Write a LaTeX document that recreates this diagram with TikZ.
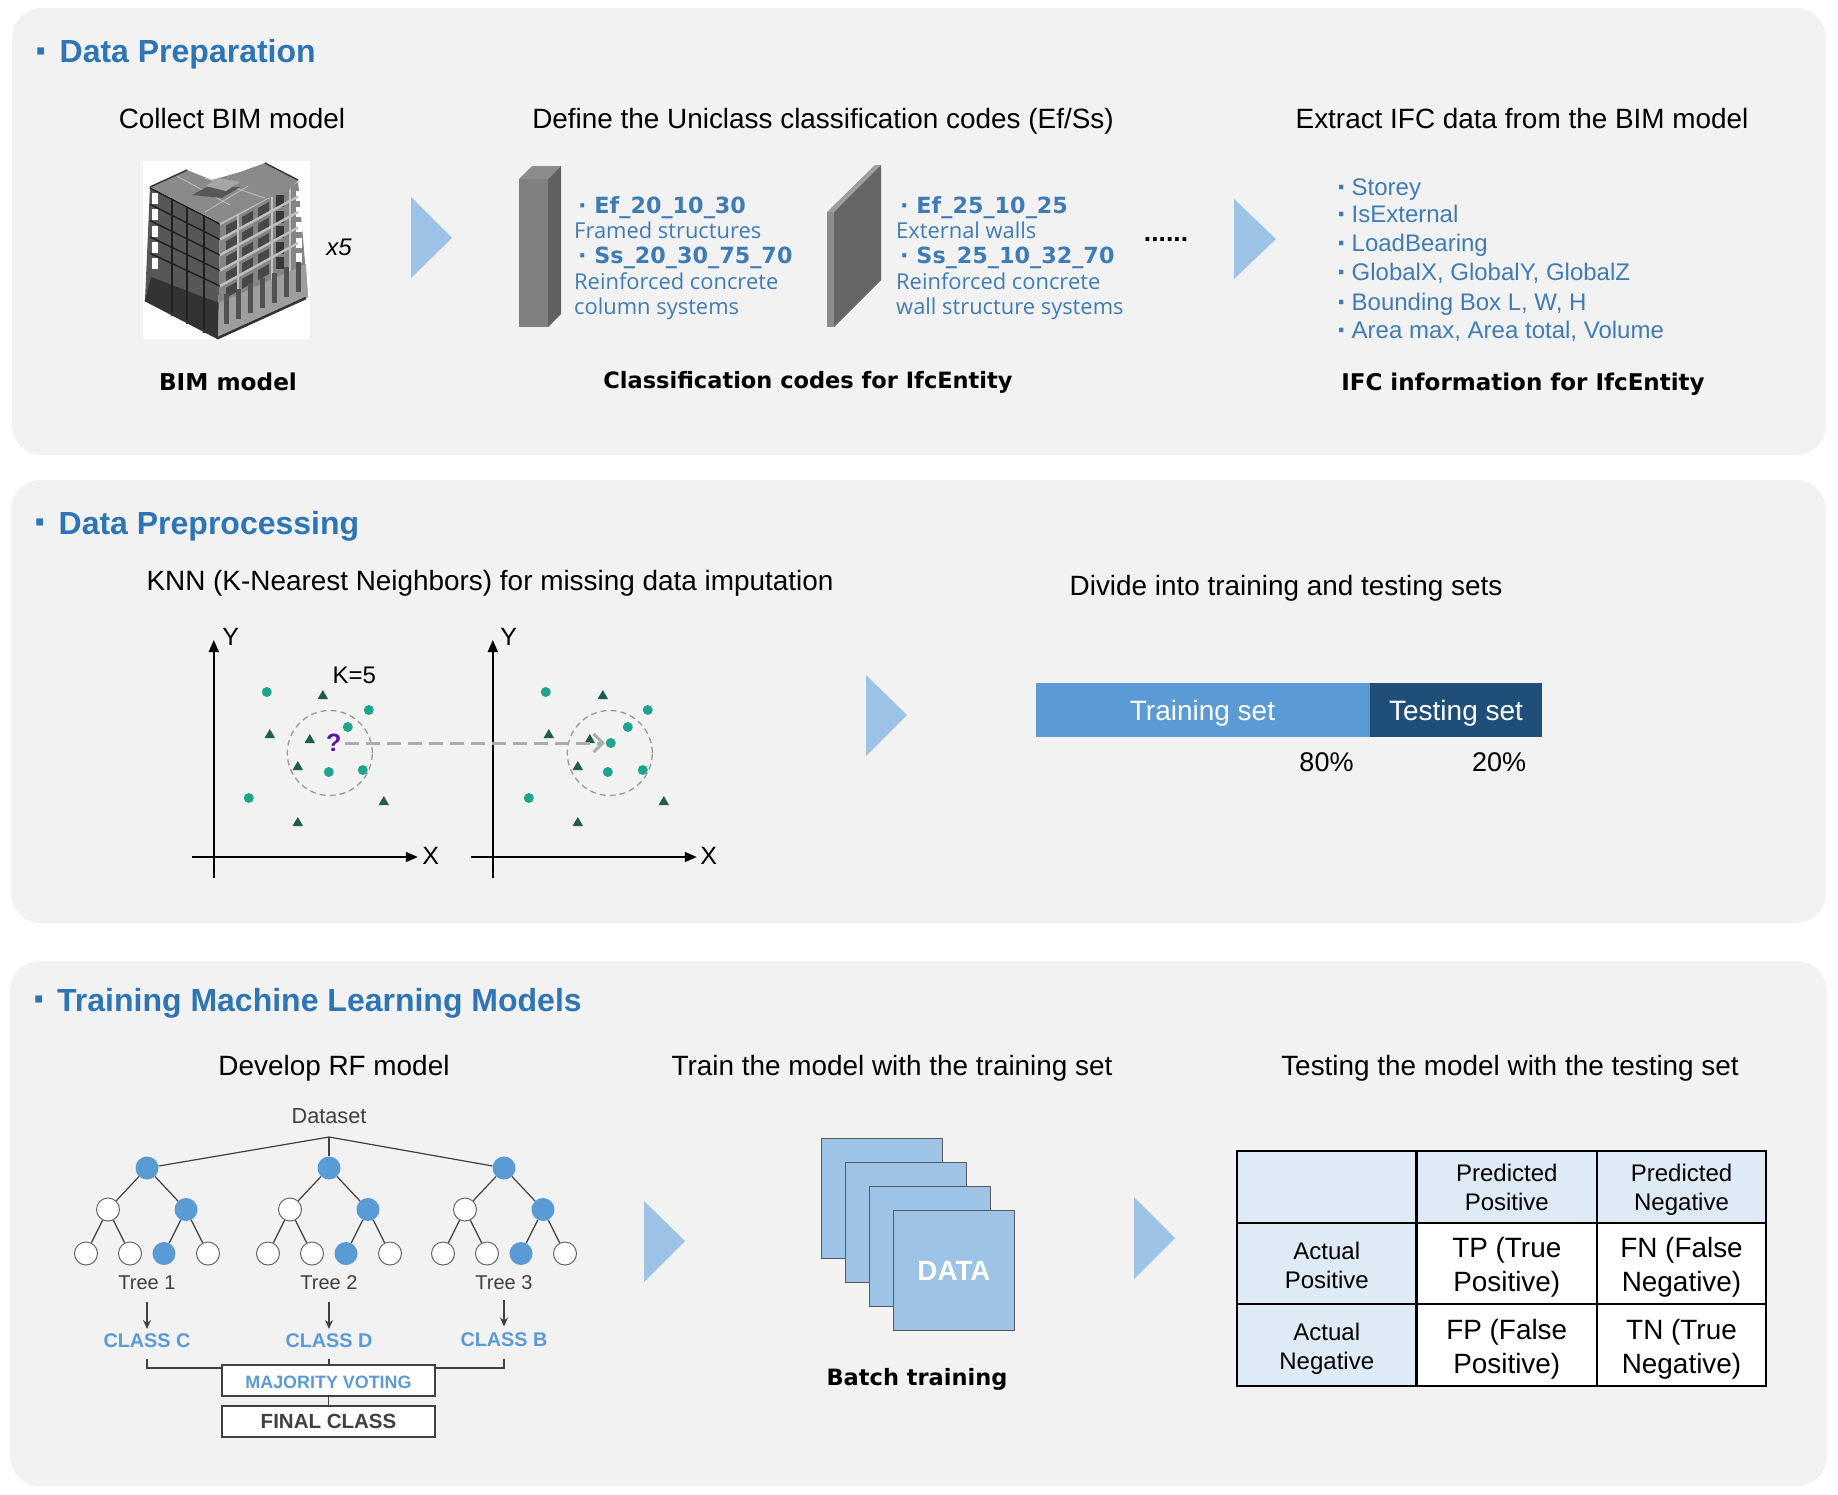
\documentclass[tikz,border=0pt]{standalone}
\usepackage{fontspec}
\setmainfont{Liberation Sans}
\newfontfamily\codefont{DejaVu Sans}
\newfontfamily\notefont{Open Sans}
\usetikzlibrary{arrows.meta,shapes.geometric}
\definecolor{panelgray}{HTML}{F2F2F2}
\definecolor{headblue}{HTML}{2E75B6}
\definecolor{textblue}{HTML}{3F7CB5}
\definecolor{arrowblue}{HTML}{9DC3E6}
\definecolor{midblue}{HTML}{5B9BD5}
\definecolor{darkblue}{HTML}{1F4E79}
\definecolor{cellblue}{HTML}{DEEAF6}
\definecolor{dotteal}{HTML}{1FA58E}
\definecolor{triteal}{HTML}{1F5C4E}
\definecolor{askpurple}{HTML}{5A12A8}
\definecolor{inkgray}{HTML}{404040}
\newcommand\bul{{\fontsize{48}{36}\selectfont\raisebox{-4.4pt}{·}}\hspace{9pt}}
\newcommand\code[1]{\hspace*{4pt}{\fontsize{22.3}{25.4}\selectfont\codefont\bfseries · #1}}
\newcommand\twol[2]{\vphantom{(Pg}#1\\\vphantom{(Pg}#2}
\newcommand\itm{{\fontsize{30}{28}\selectfont\bfseries\raisebox{-2pt}{·}}\hspace{4.5pt}}
\tikzset{
  panel/.style={fill=panelgray,rounded corners=30pt},
  flow/.style={fill=arrowblue},
  title/.style={anchor=base west,inner sep=0pt,text=headblue,font=\fontsize{32}{36}\selectfont\bfseries},
  head/.style={anchor=base,inner sep=0pt,font=\fontsize{27.9}{33}\selectfont},
  boldcap/.style={anchor=base,inner sep=0pt,font=\fontsize{#1}{28}\selectfont\codefont\bfseries},
  note/.style={anchor=west,inner sep=0pt,align=left,text=textblue,font=\fontsize{21.9}{25.4}\selectfont\notefont},
  item/.style={anchor=base west,inner sep=0pt,text=textblue,font=\fontsize{24}{28}\selectfont},
  axis/.style={line width=1.6pt,-{Triangle[length=12pt,width=10pt]}},
  axlabel/.style={font=\fontsize{25}{30}\selectfont},
  dot/.style={circle,fill=dotteal,inner sep=0pt,minimum size=10pt},
  tri/.style={regular polygon,regular polygon sides=3,fill=triteal,inner sep=0pt,minimum size=12pt},
  nearby/.style={draw=gray!80,line width=1.3pt,dash pattern=on 6pt off 4pt},
  bar/.style={inner sep=0pt,minimum height=54pt},
  barlabel/.style={anchor=base,inner sep=0pt,text=white,font=\fontsize{28}{32}\selectfont},
  pct/.style={anchor=base,inner sep=0pt,font=\fontsize{27}{32}\selectfont},
  fullnode/.style={circle,inner sep=0pt,minimum size=23pt,fill=midblue},
  emptynode/.style={circle,draw=white!40!black,line width=1pt,inner sep=0pt,minimum size=23pt,fill=white},
  link/.style={draw=inkgray,line width=1.2pt},
  small/.style={text=inkgray,font=\fontsize{#1}{26}\selectfont},
  vote/.style={text=midblue,font=\fontsize{19.8}{24}\selectfont\bfseries},
  box/.style={draw=inkgray,line width=2pt,fill=white,inner sep=0pt,minimum width=213pt,minimum height=31pt},
  sheet/.style={fill=arrowblue,draw=gray!70!black,line width=1pt,inner sep=0pt,minimum width=121pt,minimum height=120pt},
  cell/.style={draw=black,line width=2.5pt,inner sep=0pt},
  chead/.style={cell,fill=cellblue},
  cbody/.style={cell,fill=white},
  lhead/.style={align=center,inner sep=0pt,font=\fontsize{24}{29}\selectfont},
  lbody/.style={align=center,inner sep=0pt,font=\fontsize{27.9}{34}\selectfont},
}
\begin{document}
\begin{tikzpicture}[x=1pt,y=-1pt]
\useasboundingbox (0,0) rectangle (1838,1494);
% panels
\fill[panel] (12,8) rectangle (1826,455);
\fill[panel] (11,480) rectangle (1826,923);
\fill[panel] (10,961) rectangle (1827,1486);

% --- data preparation
\node[title] (t1) at (34.5,62.6) {\bul Data Preparation};
\node[head] (h1) at (232,128.5) {Collect BIM model};
\node[head] (h2) at (823,128.5) {Define the Uniclass classification codes (Ef/Ss)};
\node[head] (h3) at (1522,128.5) {Extract IFC data from the BIM model};

% building
\fill[white] (143,161) rectangle (310,339);
\fill[black!66] (150,187) -- (220,223) -- (218,338) -- (145,300) -- cycle;
\fill[black!80] (151,277) -- (219,303) -- (218,338) -- (145,300) -- cycle;
\fill[black!48] (220,223) -- (298,180) -- (308,297) -- (218,338) -- cycle;
\foreach \k in {0,...,4}{
  \fill[white] (152,{193+16.3*\k}) rectangle (158,{204+16.3*\k});
  \fill[white] (296,{191+15.5*\k}) rectangle (302,{201+15.5*\k});
  \draw[black!88,line width=1.4pt] (150,{188+16.3*\k}) -- (220,{224+15.5*\k});
  \foreach \u in {6,22,38}{
    \fill[black!72] ({220+\u},{229-.55*\u+15.5*\k}) -- ({231+\u},{229-.55*(\u+11)+15.5*\k})
      -- ({231+\u},{239-.55*(\u+11)+15.5*\k}) -- ({220+\u},{239-.55*\u+15.5*\k}) -- cycle;
  }
  \fill[black!78] ({220+56},{226-.55*56+15.5*\k}) rectangle ({220+64},{238-.55*56+15.5*\k});
  \draw[black!25,line width=2.4pt] (220,{224+15.5*\k}) -- (298,{181+15.5*\k});
}
\foreach \x in {172,187,204}{
  \draw[black!88,line width=1.2pt] (\x,{187+.514*(\x-150)}) -- (\x,{305+.52*(\x-150)});
}
\foreach \u in {18,52,70}{
  \draw[black!25,line width=1.6pt] ({220+\u},{223-.55*\u}) -- ({220+\u},{303-.45*\u});
}
\fill[black!38] (219,303) -- (306,264) -- (308,297) -- (218,338) -- cycle;
\foreach \u in {4,16,28,40,52,64,76}{
  \fill[black!68] ({220+\u},{296-.45*\u}) rectangle ({225+\u},{326-.45*\u});
}
\draw[black!80,line width=2.5pt] (145,300) -- (218,338) -- (306,298);
\fill[black!46] (150,187) -- (187,170) -- (212,180) -- (240,172) -- (265,163) -- (298,180) -- (287,192) -- (268,198) -- (220,223) -- cycle;
\draw[black!25,line width=.8pt] (175,175) -- (230,205) (205,178) -- (265,198) (248,186) -- (205,212);
\fill[black!66] (192,195) -- (207,187) -- (240,187) -- (222,198) -- cycle;
\fill[black!35] (206,186) -- (218,178) -- (240,182) -- (226,191) -- cycle;
\draw[black!80,line width=1.4pt] (150,187) -- (187,170) (265,163) -- (298,180);

\node[font=\fontsize{24}{28}\selectfont\itshape] (x5) at (339,247) {x5};
\fill[flow] (411,197) -- (452,238) -- (411,278) -- cycle;

% column and wall
\fill[black!50] (519,179) rectangle (548,327);
\fill[black!45] (519,179) -- (532,166) -- (561,166) -- (548,179) -- cycle;
\fill[black!62] (548,179) -- (561,166) -- (561,314) -- (548,327) -- cycle;
\node[note] (n1) at (574,258) {\code{Ef\_20\_10\_30}\\Framed structures\\\code{Ss\_20\_30\_75\_70}\\Reinforced concrete\\column systems};
\fill[black!45] (827,212) rectangle (834,327);
\fill[black!38] (827,212) -- (875,165) -- (881,165) -- (834,212) -- cycle;
\fill[black!60] (834,212) -- (881,165) -- (881,280) -- (834,327) -- cycle;
\node[note] (n2) at (896,258) {\code{Ef\_25\_10\_25}\\External walls\\\code{Ss\_25\_10\_32\_70}\\Reinforced concrete\\wall structure systems};
\node[font=\fontsize{26.5}{28}\selectfont\bfseries] (more) at (1166,240) {......};
\fill[flow] (1234,199) -- (1276,239) -- (1234,279) -- cycle;
\node[item] (i1) at (1337,195) {\itm Storey};
\node[item] (i2) at (1337,222.7) {\itm IsExternal};
\node[item] (i3) at (1337,251.7) {\itm LoadBearing};
\node[item] (i4) at (1337,280.7) {\itm GlobalX, GlobalY, GlobalZ};
\node[item] (i5) at (1337,310) {\itm Bounding Box L, W, H};
\node[item] (i6) at (1337,338.3) {\itm Area max, Area total, Volume};
\node[boldcap=23.2] (c1) at (228,390) {BIM model};
\node[boldcap=22.5] (c2) at (808,388) {Classification codes for IfcEntity};
\node[boldcap=23] (c3) at (1523,390.7) {IFC information for IfcEntity};

% --- data preprocessing
\node[title] (t2) at (33.5,534) {\bul Data Preprocessing};
\node[head] (h4) at (490,590) {KNN (K-Nearest Neighbors) for missing data imputation};
\node[head] (h5) at (1286,595) {Divide into training and testing sets};

\begin{scope}[xshift=.8pt]
\coordinate (y1a) at (213,878); \coordinate (y1b) at (213,640);
\coordinate (x1a) at (191,857); \coordinate (x1b) at (417,857);
\coordinate (y2a) at (492,878); \coordinate (y2b) at (492,640);
\coordinate (x2a) at (470,857); \coordinate (x2b) at (696,857);
\draw[axis] (y1a) -- (y1b);
\draw[axis] (x1a) -- (x1b);
\draw[axis] (y2a) -- (y2b);
\draw[axis] (x2a) -- (x2b);
\node[axlabel] (ly1) at (230,637) {Y};
\node[axlabel] (lx1) at (430,856) {X};
\node[axlabel] (ly2) at (508,637) {Y};
\node[axlabel] (lx2) at (708,856) {X};
\node[font=\fontsize{24}{28}\selectfont] (k5) at (353.5,675) {K=5};
\foreach \x/\y in {266/692,368/710,347/727,328/772,362/770,248/798,545/692,647/710,627/727,610/743,607/772,642/770,528/798}
  \node[dot] at (\x,\y) {};
\foreach \x/\y in {322/696,269/735,309/740,297/767,383/802,297/823,602/696,548/735,589/740,577/767,663/802,577/823}
  \node[tri] at (\x,\y) {};
\draw[nearby] (329,753) circle (42.5pt);
\draw[nearby] (609,753) circle (42.5pt);
\node[text=askpurple,font=\fontsize{25}{30}\selectfont\bfseries] (ask) at (333,743) {?};
\coordinate (filled) at (604,743);
\draw[draw=gray!65,line width=3pt,dash pattern=on 14pt off 7pt,-{Straight Barb[length=9pt,width=18pt]}] (ask.east) -- (filled);
\end{scope}
\fill[flow] (866,675) -- (907,715) -- (866,756) -- cycle;

\node[bar,fill=midblue,minimum width=334pt] (train) at (1203,710) {};
\node[bar,fill=darkblue,minimum width=172pt] (test) at (1456,710) {};
\node[barlabel] (trainl) at (1202.5,720) {Training set};
\node[barlabel] (testl) at (1456,720) {Testing set};
\node[pct] (p80) at (1326.5,771) {80\%};
\node[pct] (p20) at (1499,771) {20\%};

% --- training
\node[title] (t3) at (32,1011.5) {\bul Training Machine Learning Models};
\node[head] (h6) at (334,1075) {Develop RF model};
\node[head] (h7) at (892,1075) {Train the model with the training set};
\node[head] (h8) at (1510,1075) {Testing the model with the testing set};

\node[small=21.7] (dataset) at (329,1116.5) {Dataset};
\coordinate (apex) at (329,1137);
\foreach \t/\x/\c/\d in {1/147/C/0,2/329/D/0,3/504/B/-2.5}{
  \node[fullnode] (r\t) at (\x,1168) {};
  \node[emptynode] (a\t) at ({\x-39},1209.5) {};
  \node[fullnode] (b\t) at ({\x+39},1209.5) {};
  \node[emptynode] (aa\t) at ({\x-61},1253.5) {};
  \node[emptynode] (ab\t) at ({\x-17},1253.5) {};
  \node[fullnode] (ba\t) at ({\x+17},1253.5) {};
  \node[emptynode] (bb\t) at ({\x+61},1253.5) {};
  \draw[link] (apex) -- (r\t);
  \draw[link] (r\t) -- (a\t);
  \draw[link] (r\t) -- (b\t);
  \draw[link] (a\t) -- (aa\t);
  \draw[link] (a\t) -- (ab\t);
  \draw[link] (b\t) -- (ba\t);
  \draw[link] (b\t) -- (bb\t);
  \node[small=20] (tree\t) at (\x,1283) {Tree \t};
  \node[vote] (class\t) at (\x,{1341+.4*\d}) {CLASS \c};
  \coordinate (ar\t) at (\x,{1302+\d});
  \coordinate (ae\t) at (\x,{1329+\d});
  \draw[link,line width=1.8pt,-{Stealth[length=9pt,width=8pt]}] (ar\t) -- (ae\t);
  \coordinate (v\t) at (\x,1359);
}
\node[box] (major) at (328.5,1380.5) {};
\node[box] (final) at (328.5,1421.5) {};
\node[text=midblue,font=\fontsize{17.9}{22}\selectfont\bfseries] (majorl) at (328.5,1382) {MAJORITY VOTING};
\node[text=inkgray,font=\fontsize{20.5}{24}\selectfont\bfseries] (finall) at (final.center) {FINAL CLASS};
\coordinate (ml) at (222,1368);
\coordinate (mr) at (435,1368);
\coordinate (mt) at (329,1365);
\draw[link] (v1) |- (ml);
\draw[link] (v3) |- (mr);
\draw[link] (v2) -- (mt);
\draw[link] (major) -- (final);
\fill[flow] (644,1201) -- (685,1241) -- (644,1282) -- cycle;

\node[sheet] (s1) at (881.5,1198) {};
\node[sheet] (s2) at (905.5,1222) {};
\node[sheet] (s3) at (929.5,1246) {};
\node[sheet] (s4) at (954,1270) {};
\node[text=white,font=\fontsize{27.8}{32}\selectfont\bfseries] (datal) at (954,1271) {DATA};
\node[boldcap=22.5] (c4) at (917,1385) {Batch training};
\fill[flow] (1134,1197) -- (1175,1238) -- (1134,1279) -- cycle;

% confusion table
\node[chead,minimum width=179.5pt,minimum height=72pt] (e00) at (1326.75,1187) {};
\node[chead,minimum width=180.5pt,minimum height=72pt] (e01) at (1506.75,1187) {};
\node[chead,minimum width=169pt,minimum height=72pt] (e02) at (1681.5,1187) {};
\node[chead,minimum width=179.5pt,minimum height=81pt] (e10) at (1326.75,1263.5) {};
\node[cbody,minimum width=180.5pt,minimum height=81pt] (e11) at (1506.75,1263.5) {};
\node[cbody,minimum width=169pt,minimum height=81pt] (e12) at (1681.5,1263.5) {};
\node[chead,minimum width=179.5pt,minimum height=82pt] (e20) at (1326.75,1345) {};
\node[cbody,minimum width=180.5pt,minimum height=82pt] (e21) at (1506.75,1345) {};
\node[cbody,minimum width=169pt,minimum height=82pt] (e22) at (1681.5,1345) {};
\node[lhead] (l01) at (1506.75,1189.5) {\twol{Predicted}{Positive}};
\node[lhead] (l02) at (1681.5,1189.5) {\twol{Predicted}{Negative}};
\node[lhead] (l10) at (1326.75,1267.5) {\twol{Actual}{Positive}};
\node[lbody] (l11) at (1506.75,1267.5) {\twol{TP (True}{Positive)}};
\node[lbody] (l12) at (1681.5,1267.5) {\twol{FN (False}{Negative)}};
\node[lhead] (l20) at (1326.75,1349) {\twol{Actual}{Negative}};
\node[lbody] (l21) at (1506.75,1349.5) {\twol{FP (False}{Positive)}};
\node[lbody] (l22) at (1681.5,1349.5) {\twol{TN (True}{Negative)}};
\end{tikzpicture}
\end{document}
